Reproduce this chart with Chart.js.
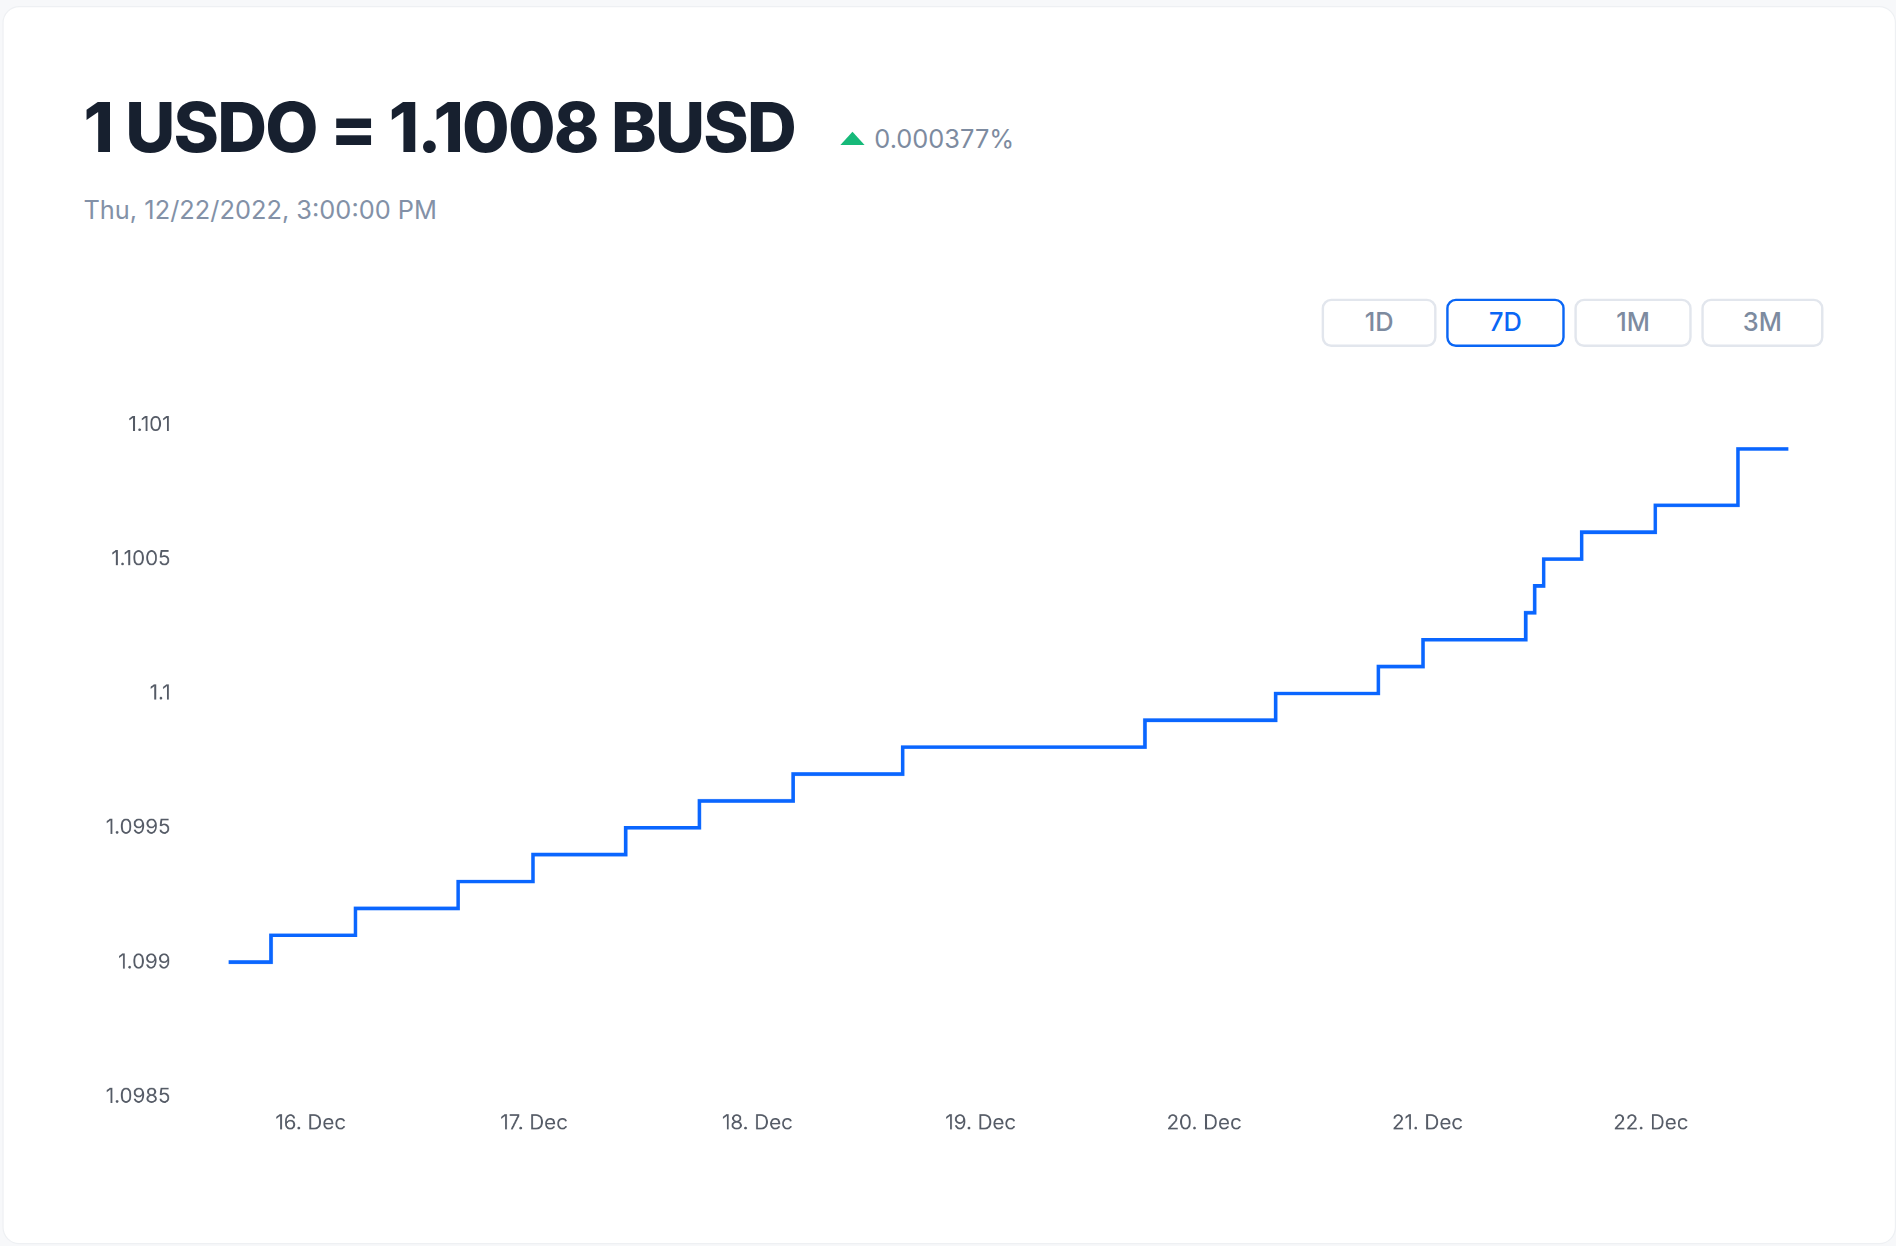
<!DOCTYPE html>
<html>
<head>
<meta charset="utf-8">
<script src="https://cdn.jsdelivr.net/npm/chart.js@4"></script>
<style>
  html, body { margin: 0; padding: 0; background: #f7f8fa; overflow: hidden; }
  #stage { position: absolute; left: 0; top: 0; width: 1568px; height: 1030px; transform: scale(1.2092); transform-origin: 0 0; }
  .card { position: absolute; left: 2px; top: 5px; width: 1564px; height: 1022px; background: #fff; border: 1px solid #eef0f3; border-radius: 14px; font-family: Inter, "Open Sans", sans-serif; }
  .title { position: absolute; left: 66px; top: 65px; font-size: 57px; font-weight: 800; color: #17202f; letter-spacing: -1.5px; }
  .change { position: absolute; left: 692px; top: 96px; font-size: 21px; color: #7d8ba0; }
  .change span { display: inline-block; width: 0; height: 0; border-left: 10px solid transparent; border-right: 10px solid transparent; border-bottom: 11px solid #16b979; margin-right: 8px; vertical-align: 2px; }
  .date { position: absolute; left: 66px; top: 155px; font-size: 21px; color: #8391a7; }
  .btn { position: absolute; top: 241px; height: 36px; border: 2px solid #e2e6ed; border-radius: 8px; font-size: 21px; color: #7d8ba0; text-align: center; line-height: 36px; font-weight: 500; }
  .btn.on { border-color: #0a66f5; color: #0a66f5; }
  #wrap { position: absolute; left: 34px; top: 295px; width: 1482px; height: 656px; }
</style>
</head>
<body>
<div id="stage">
  <div class="card">
    <div class="title">1 USDO = 1.1008 BUSD</div>
    <div class="change"><span></span>0.000377%</div>
    <div class="date">Thu, 12/22/2022, 3:00:00 PM</div>
    <div class="btn" style="left:1090px;width:91px">1D</div>
    <div class="btn on" style="left:1193px;width:94px">7D</div>
    <div class="btn" style="left:1299px;width:93px">1M</div>
    <div class="btn" style="left:1404px;width:97px">3M</div>
    <div id="wrap"><canvas id="chart"></canvas></div>
  </div>
</div>
<script>
// days after 16 Dec 00:00, and rate (stepped)
const stepTimes = [-0.368, -0.178, 0.2, 0.66, 0.995, 1.41, 1.74, 2.16, 2.65, 3.735, 4.32, 4.78, 4.98, 5.44, 5.48, 5.52, 5.69, 6.02, 6.39, 6.616];
const stepRates = [1.0990, 1.0991, 1.0992, 1.0993, 1.0994, 1.0995, 1.0996, 1.0997, 1.0998, 1.0999, 1.1000, 1.1001, 1.1002, 1.1003, 1.1004, 1.1005, 1.1006, 1.1007, 1.10091, 1.10091];
const dayLabels = ["16. Dec", "17. Dec", "18. Dec", "19. Dec", "20. Dec", "21. Dec", "22. Dec"];

const points = stepTimes.map((t, i) => ({ x: t, y: stepRates[i] }));

new Chart(document.getElementById("chart"), {
  type: "line",
  data: {
    datasets: [{
      data: points,
      stepped: true,
      borderColor: "#0a66ff",
      borderWidth: 3,
      pointRadius: 0,
      fill: false
    }]
  },
  options: {
    responsive: true,
    maintainAspectRatio: false,
    devicePixelRatio: 2,
    animation: false,
    layout: { padding: { top: 5, right: 40 } },
    plugins: { legend: { display: false }, tooltip: { enabled: false } },
    scales: {
      x: {
        type: "linear",
        min: -0.368,
        max: 6.616,
        grid: { display: false },
        border: { display: false },
        afterBuildTicks: s => { s.ticks = dayLabels.map((_, i) => ({ value: i })); },
        ticks: {
          autoSkip: false,
          maxRotation: 0,
          padding: 4,
          color: "#555b66",
          font: { family: "Inter", size: 17 },
          callback: v => dayLabels[v] || ""
        }
      },
      y: {
        min: 1.0985,
        max: 1.101,
        afterFit: s => { s.width = 152; },
        grid: { display: false },
        border: { display: false },
        ticks: {
          stepSize: 0.0005,
          padding: 40,
          color: "#555b66",
          font: { family: "Inter", size: 17 },
          callback: v => String(parseFloat(v.toFixed(4)))
        }
      }
    }
  }
});
</script>
</body>
</html>
